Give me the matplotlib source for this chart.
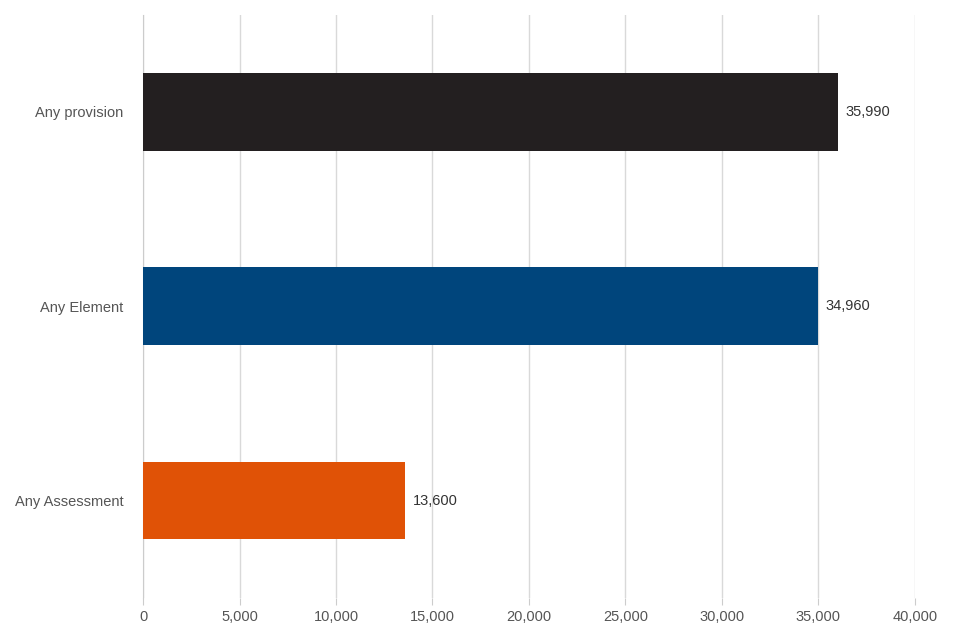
import matplotlib.pyplot as plt

plt.rcParams['font.family'] = ['Liberation Sans', 'DejaVu Sans']

categories = ["Any provision", "Any Element", "Any Assessment"]
values = [35990, 34960, 13600]
colors = ["#231f20", "#00457c", "#e05206"]
xticks = [0, 5000, 10000, 15000, 20000, 25000, 30000, 35000, 40000]

fig = plt.figure(figsize=(9.6, 6.4), dpi=100)
ax = fig.add_axes([0.149, 0.066, 0.804, 0.911])

pos = list(range(len(categories)))[::-1]
ax.barh(pos, values, height=0.4, color=colors, zorder=3)
for p, v in zip(pos, values):
    ax.text(v + 400, p, f"{v:,}", va="center", ha="left", fontsize=10.5, color="#333333")

ax.set_yticks(pos)
ax.set_yticklabels(categories, fontsize=10.5, color="#555555")
ax.set_xticks(xticks)
ax.set_xticklabels([f"{t:,}" for t in xticks], fontsize=10.5, color="#555555")
ax.set_xlim(0, 40000)
ax.set_ylim(-0.5, 2.5)
ax.grid(axis="x", color="#d9d9d9", linewidth=1, zorder=0)
ax.tick_params(axis="y", length=0, pad=14)
ax.tick_params(axis="x", length=5, color="#cccccc")
for s in ["top", "right", "bottom"]:
    ax.spines[s].set_visible(False)
ax.spines["left"].set_color("#cccccc")

fig.savefig("out.png", dpi=100)
